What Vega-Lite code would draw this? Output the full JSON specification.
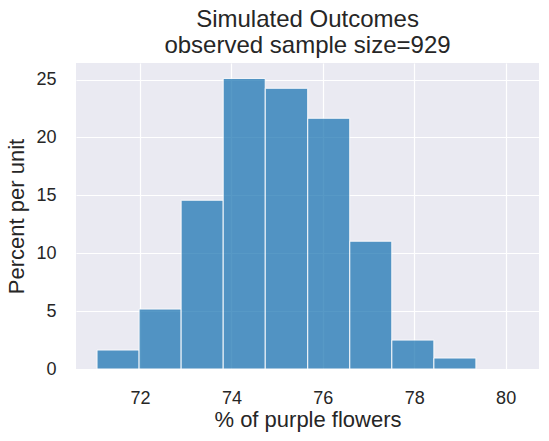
{
  "$schema": "https://vega.github.io/schema/vega-lite/v6.json",
  "autosize": "none",
  "width": 463,
  "height": 306,
  "padding": {"left": 76, "top": 63, "right": 10, "bottom": 72},
  "background": "white",
  "config": {
    "font": "Liberation Sans",
    "view": {"fill": "#eaeaf2", "stroke": null},
    "axis": {
      "domain": false,
      "ticks": false,
      "grid": true,
      "gridColor": "white",
      "gridWidth": 1.2,
      "labelFontSize": 18,
      "labelColor": "#262626",
      "titleFontSize": 22,
      "titleFontWeight": "normal",
      "titleColor": "#262626"
    }
  },
  "title": {
    "text": ["Simulated Outcomes", "observed sample size=929"],
    "fontSize": 24,
    "fontWeight": "normal",
    "color": "#262626",
    "lineHeight": 26,
    "offset": 5
  },
  "data": {
    "values": [
      {"bin_start": 71.06, "bin_end": 71.98, "pct": 1.64},
      {"bin_start": 71.98, "bin_end": 72.90, "pct": 5.18},
      {"bin_start": 72.90, "bin_end": 73.82, "pct": 14.58},
      {"bin_start": 73.82, "bin_end": 74.74, "pct": 25.1},
      {"bin_start": 74.74, "bin_end": 75.67, "pct": 24.25},
      {"bin_start": 75.67, "bin_end": 76.59, "pct": 21.66},
      {"bin_start": 76.59, "bin_end": 77.51, "pct": 11.04},
      {"bin_start": 77.51, "bin_end": 78.43, "pct": 2.5},
      {"bin_start": 78.43, "bin_end": 79.35, "pct": 0.95}
    ]
  },
  "mark": {"type": "rect", "color": "#1f77b4", "opacity": 0.75, "stroke": "white", "strokeWidth": 1},
  "encoding": {
    "x": {
      "field": "bin_start",
      "type": "quantitative",
      "scale": {"domain": [70.6, 80.73], "nice": false, "zero": false},
      "axis": {"values": [72, 74, 76, 78, 80], "title": "% of purple flowers", "labelPadding": 20, "titlePadding": 2}
    },
    "x2": {"field": "bin_end"},
    "y": {
      "field": "pct",
      "type": "quantitative",
      "scale": {"domain": [0, 26.43], "nice": false},
      "axis": {"values": [0, 5, 10, 15, 20, 25], "title": "Percent per unit", "labelPadding": 20, "titlePadding": 7}
    }
  }
}
